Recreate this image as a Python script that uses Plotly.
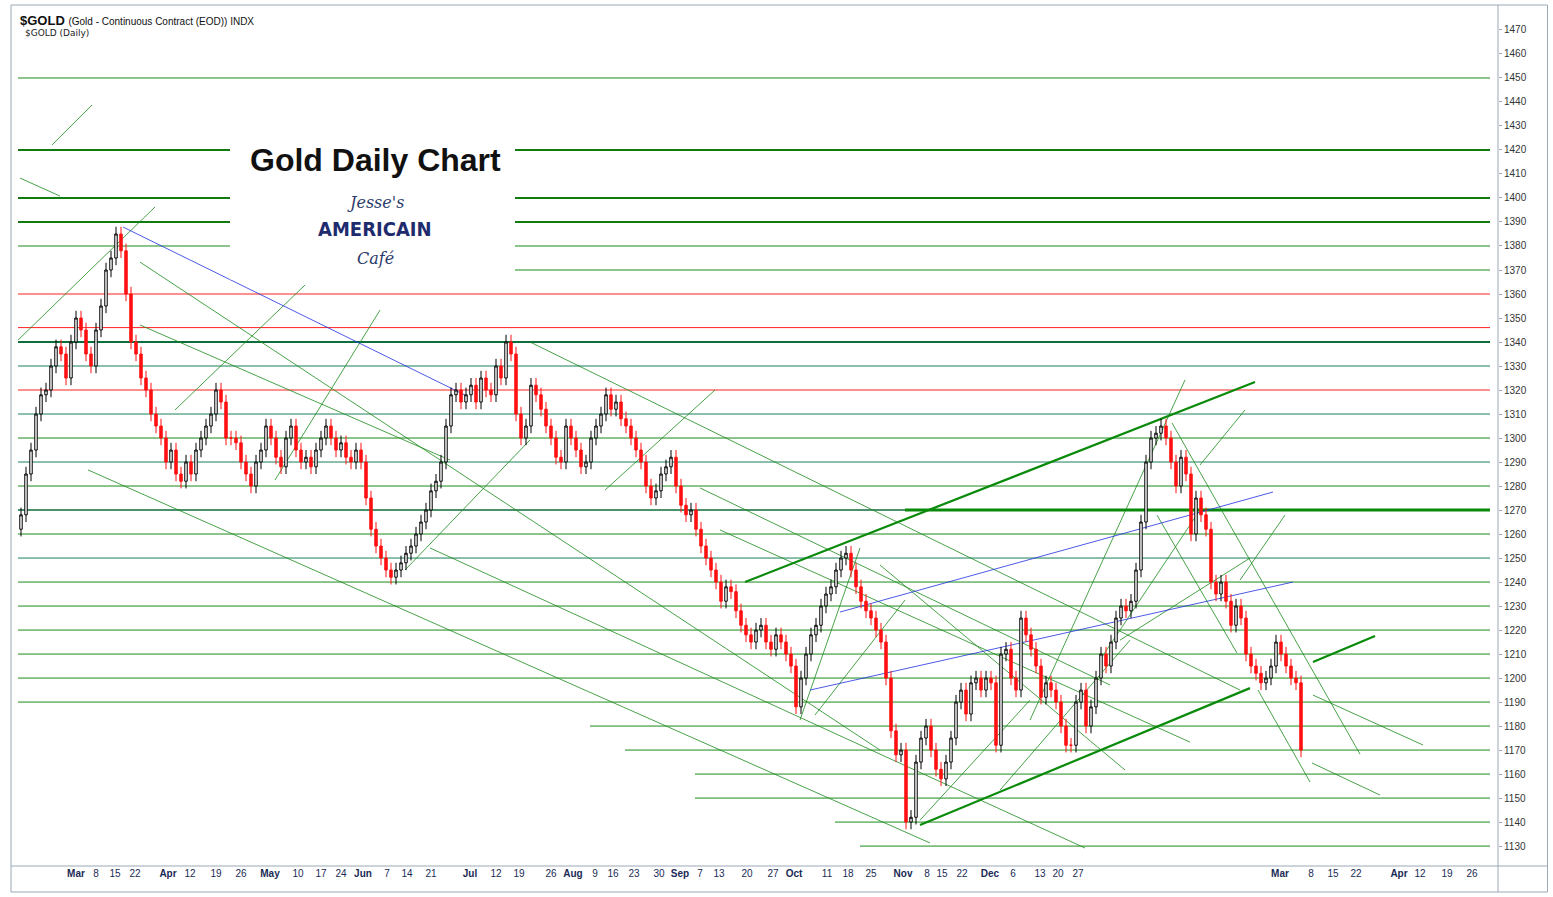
import plotly.graph_objects as go

closes = [1268,1285,1295,1310,1318,1320,1330,1338,1335,1325,1340,1350,1345,1335,1330,1345,1355,1370,1375,1385,1378,1360,
 1340,1335,1325,1320,1310,1305,1300,1290,1295,1285,1282,1290,1285,1295,1300,1305,1310,1320,1315,1300,
 1300,1298,1290,1285,1280,1290,1295,1305,1300,1292,1288,1300,1305,1295,1290,1292,1288,1295,1300,1305,
 1300,1295,1298,1292,1290,1295,1290,1275,1262,1255,1250,1245,1242,1245,1248,1252,1255,1260,1265,1270,
 1278,1282,1290,1305,1318,1320,1315,1318,1322,1315,1325,1320,1318,1330,1325,1340,1335,1310,1300,1305,
 1322,1318,1312,1305,1300,1292,1290,1305,1300,1295,1288,1290,1300,1305,1310,1318,1312,1315,1308,1305,
 1300,1295,1290,1280,1275,1278,1285,1288,1292,1280,1272,1268,1270,1262,1255,1250,1245,1240,1232,1238,
 1236,1228,1222,1218,1215,1220,1222,1215,1212,1218,1215,1210,1205,1188,1200,1210,1218,1222,1230,1235,
 1238,1245,1250,1252,1245,1238,1232,1228,1225,1220,1215,1200,1178,1168,1170,1140,1142,1165,1175,1180,
 1170,1162,1158,1165,1175,1190,1195,1185,1198,1200,1195,1200,1198,1172,1210,1212,1200,1195,1225,1218,
 1212,1205,1192,1198,1195,1190,1180,1172,1172,1190,1195,1180,1188,1200,1210,1205,1215,1225,1230,1228,
 1232,1245,1265,1290,1300,1302,1305,1300,1290,1280,1292,1285,1260,1275,1268,1262,1240,1235,1240,1232,
 1222,1230,1225,1210,1205,1202,1198,1200,1205,1215,1210,1205,1200,1198,1170]
first_open = 1262
wick = 3

price_ticks = list(range(1130, 1471, 10))
tick_pos = [11,15,18.8,22.8,29.4,33.8,39,44,49.8,55.4,60,64,68.4,73.2,77.2,82,89.8,95,99.6,106,110.4,114.8,118.4,122.6,127.6,
            131.8,135.8,139.6,145.2,150.4,154.6,161.2,165.4,170,176.4,181.2,184.2,188.2,193.8,198.4,203.8,207.4,211.4,
            251.8,258,262.4,267,275.6,279.8,285.2,290.2]
tick_txt = ["<b>Mar</b>","8","15","22","<b>Apr</b>","12","19","26","<b>May</b>","10","17","24","<b>Jun</b>","7","14","21",
            "<b>Jul</b>","12","19","26","<b>Aug</b>","9","16","23","30","<b>Sep</b>","7","13","20","27","<b>Oct</b>","11","18","25",
            "<b>Nov</b>","8","15","22","<b>Dec</b>","6","13","20","27","<b>Mar</b>","8","15","22","<b>Apr</b>","12","19","26"]

levels = [(1450,-0.6,"#1a8a1a",1),(1420,-0.6,"#117a11",2),(1400,-0.6,"#117a11",2),(1390,-0.6,"#117a11",2),(1380,-0.6,"#1a8a1a",1),
          (1370,98.8,"#1a8a1a",1),(1360,-0.6,"#ff2020",1),(1346,-0.6,"#ff2020",1),(1340,-0.6,"#0c6e3a",2),(1330,-0.6,"#19805a",1),
          (1320,-0.6,"#ff2020",1),(1310,-0.6,"#19805a",1),(1300,-0.6,"#1a8a1a",1),(1290,-0.6,"#19805a",1),(1280,-0.6,"#1a8a1a",1),
          (1270,-0.6,"#0c6e3a",1.5),(1260,-0.6,"#1a8a1a",1),(1250,-0.6,"#19805a",1),(1240,-0.6,"#1a8a1a",1),(1230,-0.6,"#1a8a1a",1),
          (1220,-0.6,"#1a8a1a",1),(1210,-0.6,"#1a8a1a",1),(1200,-0.6,"#1a8a1a",1),(1190,-0.6,"#1a8a1a",1),(1180,113.8,"#1a8a1a",1),
          (1170,120.8,"#1a8a1a",1),(1160,134.8,"#1a8a1a",1),(1150,134.8,"#1a8a1a",1),(1140,162.8,"#1a8a1a",1),(1130,167.8,"#1a8a1a",1)]
thick_1270 = (176.8, 1270)

desc_lines = [(-0.2,1408.3,7.8,1400.8),(23.8,1373.3,171.8,1170),(23.8,1347.1,85.8,1290.8),(13.4,1286.7,181.8,1131.3),
              (81.8,1254.2,212.8,1129.2),(101.8,1340,243.8,1195),(135.8,1279.2,217.8,1197.1),(139.8,1261.7,233.8,1173.3),
              (230.2,1306.3,267.8,1168.3),(227.2,1267.9,243.2,1210.4),(247.4,1195,257.8,1156.7),(258.2,1164.6,271.8,1151.25),
              (258.4,1192.9,280.4,1172.1),(171.8,1247.1,220.8,1161.7)]
asc_lines = [(6.2,1422.1,14.2,1438.75),(-0.6,1340.8,26.8,1396.25),(30.8,1311.7,56.8,1363.75),(50.8,1282.5,71.8,1353.3),
             (76.8,1245,101.8,1299.2),(116.8,1278.3,138.8,1320),(155.8,1182.5,167.8,1254.2),(158.8,1184.6,176.8,1232.5),
             (179.8,1140.8,201.8,1190.8),(195.8,1153.3,221.8,1215.8),(201.8,1182.5,232.8,1324.2),(219.8,1215.8,245.8,1250),
             (235.8,1288.75,244.8,1311.7),(243.8,1240.8,252.8,1267.9),(215.8,1207.5,235.8,1270)]
blue_lines = [(20.4,1387.9,88.8,1317.9),(163.8,1227.5,250.4,1277.5),(157.8,1195,254.4,1240)]
thick_lines = [(144.8,1240,246.8,1323.3),(179.8,1138.75,245.8,1195.8),(258.4,1206.7,270.8,1217.5)]

x = list(range(len(closes)))
opens = [first_open] + closes[:-1]
highs = [max(o, c) + wick for o, c in zip(opens, closes)]
lows = [min(o, c) - wick for o, c in zip(opens, closes)]

fig = go.Figure(go.Candlestick(
    x=x, open=opens, high=highs, low=lows, close=closes,
    increasing=dict(line=dict(color="black", width=1), fillcolor="white"),
    decreasing=dict(line=dict(color="#ff1010", width=1), fillcolor="#ff1010"),
    whiskerwidth=0, hoverinfo="skip", showlegend=False))

shapes = []
for p, s, col, w in levels:
    shapes.append(dict(type="line", x0=s, x1=293.8, y0=p, y1=p, line=dict(color=col, width=w), layer="below"))
shapes.append(dict(type="line", x0=thick_1270[0], x1=293.8, y0=thick_1270[1], y1=thick_1270[1],
                   line=dict(color="#0a8a0a", width=3), layer="below"))
for a, b, c, d in desc_lines + asc_lines:
    shapes.append(dict(type="line", x0=a, y0=b, x1=c, y1=d, line=dict(color="#1a8a1a", width=0.8), layer="below"))
for a, b, c, d in blue_lines:
    shapes.append(dict(type="line", x0=a, y0=b, x1=c, y1=d, line=dict(color="#2030e0", width=0.8), layer="below"))
for a, b, c, d in thick_lines:
    shapes.append(dict(type="line", x0=a, y0=b, x1=c, y1=d, line=dict(color="#0a8a0a", width=2.2), layer="below"))
shapes.append(dict(type="rect", x0=41.8, x1=98.8, y0=1366, y1=1430, fillcolor="white", line=dict(width=0), layer="below"))
shapes.append(dict(type="rect", xref="paper", yref="paper", x0=0, x1=1.0333, y0=-0.0302, y1=1,
                   line=dict(color="#9aa8b8", width=1)))
shapes.append(dict(type="line", xref="paper", yref="paper", x0=0, x1=1.0333, y0=0, y1=0, line=dict(color="#9aa8b8", width=1)))
shapes.append(dict(type="line", xref="paper", yref="paper", x0=1, x1=1, y0=-0.0302, y1=1, line=dict(color="#9aa8b8", width=1)))

ann = [
    dict(xref="paper", yref="paper", x=0.005, y=0.993, xanchor="left", yanchor="top", showarrow=False,
         text="<b>$GOLD</b> <span style='font-size:10px'>(Gold - Continuous Contract (EOD)) INDX</span>",
         font=dict(family="Arial", size=13, color="#111")),
    dict(xref="paper", yref="paper", x=0.008, y=0.976, xanchor="left", yanchor="top", showarrow=False,
         text="$GOLD (Daily)", font=dict(family="DejaVu Sans", size=9, color="#222")),
    dict(x=70.8, y=1416, showarrow=False, text="<b>Gold Daily Chart</b>",
         font=dict(family="Liberation Sans", size=32, color="#111")),
    dict(x=70.8, y=1398, showarrow=False, text="<i>Jesse's</i>",
         font=dict(family="DejaVu Serif", size=16, color="#2a3a6a")),
    dict(x=70.8, y=1387, showarrow=False, text="<b>AMERICAIN</b>",
         font=dict(family="DejaVu Sans Condensed", size=20, color="#1e2c6e")),
    dict(x=70.8, y=1375, showarrow=False, text="<i>Café</i>",
         font=dict(family="DejaVu Serif", size=16, color="#2a3a6a")),
]

fig.update_layout(
    width=1553, height=897, margin=dict(l=11, r=55, t=5, b=31),
    paper_bgcolor="white", plot_bgcolor="white",
    shapes=shapes, annotations=ann, showlegend=False,
    xaxis=dict(range=[-2, 295.4], tickvals=tick_pos, ticktext=tick_txt, showgrid=False, zeroline=False,
               rangeslider=dict(visible=False), ticks="", tickfont=dict(family="Arial", size=10, color="#1a2a55"),
               showline=False),
    yaxis=dict(range=[1121.7, 1480.4], side="right", tickvals=price_ticks, showgrid=False, zeroline=False,
               ticks="outside", ticklen=3, tickcolor="#9aa8b8", tickfont=dict(family="Arial", size=10, color="#333"),
               showline=False),
)
fig.write_html("out.html", config={"displayModeBar": False},
               post_script="document.body.style.margin='0';window.dispatchEvent(new Event('resize'));")
